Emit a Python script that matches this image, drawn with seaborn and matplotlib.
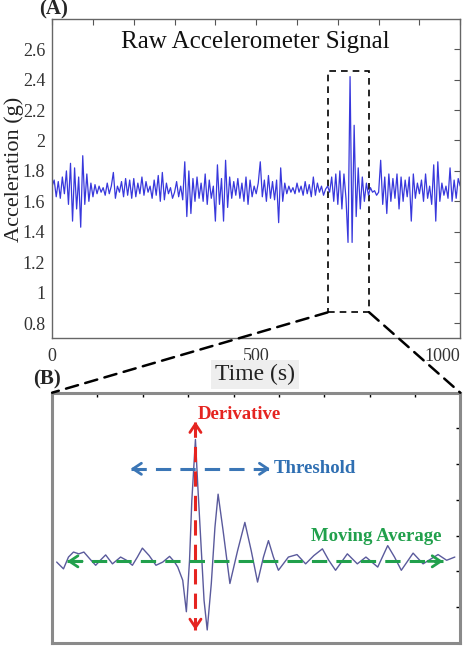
import numpy as np
import pandas as pd
import matplotlib
matplotlib.use("Agg")
import matplotlib.pyplot as plt
import seaborn as sns
from matplotlib.patches import Rectangle, ConnectionPatch

sns.set_style("white")
plt.rcParams['font.family'] = ['Liberation Serif', 'DejaVu Serif']

# (A) raw signal, one reading every 5 s
time_s = np.arange(0, 1001, 5)
accel_g = [
    1.70, 1.74, 1.63, 1.73, 1.62, 1.76, 1.65, 1.80, 1.58, 1.85,
    1.47, 1.82, 1.55, 1.76, 1.43, 1.90, 1.58, 1.78, 1.60, 1.72,
    1.63, 1.71, 1.65, 1.70, 1.66, 1.69, 1.64, 1.72, 1.65, 1.70,
    1.79, 1.62, 1.70, 1.66, 1.73, 1.63, 1.75, 1.64, 1.74, 1.62,
    1.75, 1.63, 1.72, 1.65, 1.76, 1.64, 1.73, 1.66, 1.70, 1.62,
    1.74, 1.64, 1.77, 1.60, 1.79, 1.61, 1.72, 1.65, 1.69, 1.62,
    1.66, 1.73, 1.63, 1.70, 1.61, 1.86, 1.50, 1.80, 1.52, 1.75,
    1.60, 1.76, 1.62, 1.72, 1.60, 1.78, 1.58, 1.74, 1.62, 1.70,
    1.47, 1.84, 1.58, 1.75, 1.47, 1.87, 1.56, 1.76, 1.62, 1.73,
    1.64, 1.75, 1.62, 1.72, 1.60, 1.76, 1.58, 1.74, 1.63, 1.70,
    1.65, 1.72, 1.86, 1.63, 1.74, 1.60, 1.77, 1.62, 1.73, 1.61,
    1.74, 1.46, 1.82, 1.60, 1.72, 1.65, 1.70, 1.66, 1.69, 1.65,
    1.72, 1.66, 1.70, 1.64, 1.73, 1.65, 1.71, 1.63, 1.76, 1.64,
    1.72, 1.66, 1.70, 1.64, 1.68, 1.70, 1.66, 1.76, 1.60, 1.78,
    1.58, 1.80, 1.55, 1.78, 1.62, 1.33, 2.42, 1.33, 2.10, 1.50,
    1.82, 1.55, 1.76, 1.60, 1.72, 1.64, 1.69, 1.66, 1.67, 1.64,
    1.66, 1.87, 1.58, 1.76, 1.52, 1.78, 1.60, 1.75, 1.62, 1.78,
    1.55, 1.76, 1.60, 1.74, 1.63, 1.76, 1.47, 1.78, 1.62, 1.72,
    1.65, 1.74, 1.60, 1.78, 1.62, 1.70, 1.58, 1.84, 1.47, 1.86,
    1.60, 1.72, 1.64, 1.70, 1.62, 1.82, 1.60, 1.74, 1.62, 1.75, 1.70,
]
box_t = [675, 777]
box_g = [0.87, 2.46]

# (B) zoomed, smoothed segment (arbitrary units)
zoom_x = [1.0, 2.5, 3.6, 4.7, 5.9, 7.0, 8.3, 9.6, 10.7, 11.8, 13.3, 15.1, 16.4,
          17.7, 18.8, 19.9, 21.4, 22.9, 24.4, 25.9, 27.0, 27.7, 28.8, 29.6, 30.3,
          30.8, 31.6, 32.1, 32.7, 33.5, 34.2, 35.1, 35.9, 36.6, 37.7, 39.2, 40.9,
          42.5, 43.9, 45.3, 46.6, 47.7, 48.8, 49.9, 52.1, 54.0, 55.9, 57.7, 59.6,
          61.0, 62.5, 65.1, 67.3, 69.2, 71.8, 74.0, 75.5, 77.0, 79.6, 81.8, 85.1,
          87.0, 88.8]
zoom_y = [2.26, 2.07, 2.40, 2.54, 2.49, 2.54, 2.35, 2.17, 2.32, 2.46, 2.21, 2.40, 2.31,
          2.17, 2.40, 2.65, 2.44, 2.17, 2.26, 2.42, 2.26, 2.12, 1.75, 0.87, 2.31,
          3.97, 5.69, 4.44, 3.05, 1.19, 0.36, 1.66, 3.23, 4.16, 3.14, 1.66, 2.58,
          3.37, 2.58, 1.70, 2.40, 2.86, 2.40, 2.03, 2.40, 2.47, 2.21, 2.44, 2.63,
          2.31, 2.03, 2.49, 2.21, 2.40, 2.12, 2.72, 2.40, 2.03, 2.51, 2.21, 2.47,
          2.31, 2.40]

df_a = pd.DataFrame({"t": time_s, "g": accel_g})
df_b = pd.DataFrame({"x": zoom_x, "y": zoom_y})

fig = plt.figure(figsize=(4.74, 6.48), dpi=100)
ax = fig.add_axes([0.110, 0.478, 0.861, 0.493])
axb = fig.add_axes([0.110, 0.008, 0.861, 0.386])

# ---- panel A
sns.lineplot(data=df_a, x="t", y="g", ax=ax, color="#3838dc", linewidth=0.9)
ax.set_xlim(0, 1000)
ax.set_ylim(0.7, 2.8)
ax.set_xticks(np.arange(0, 1001, 100))
ax.set_xticklabels(["0" if v == 0 else ("500" if v == 500 else ("1000" if v == 1000 else ""))
                    for v in range(0, 1001, 100)])
ax.get_xticklabels()[-1].set_horizontalalignment("right")
ax.set_yticks(np.arange(0.8, 2.61, 0.2))
ax.set_yticklabels(["0.8", "1", "1.2", "1.4", "1.6", "1.8", "2", "2.2", "2.4", "2.6"])
ax.tick_params(direction="in", length=4, width=0.8, top=True, right=True,
               labelsize=13, labelcolor="#333333", color="#555555", pad=5)
ax.tick_params(axis="x", pad=7)
for s in ax.spines.values():
    s.set_color("#666666")
    s.set_linewidth(1.0)
ax.set_ylabel("Acceleration (g)", fontsize=16, color="#222222")
ax.yaxis.label.set_verticalalignment("center")
ax.yaxis.set_label_coords(-0.093, 0.53)
ax.set_xlabel("Time (s)", fontsize=17, color="#222222",
              bbox=dict(facecolor="#eeeeee", edgecolor="none", pad=3))
ax.xaxis.set_label_coords(0.497, -0.08)
ax.text(0.497, 0.928, "Raw Accelerometer Signal", transform=ax.transAxes,
        ha="center", va="center", fontsize=18, color="#111111")

ax.add_patch(Rectangle((box_t[0], box_g[0]), box_t[1] - box_t[0], box_g[1] - box_g[0],
                       fill=False, edgecolor="black", linestyle=(0, (4, 3)), linewidth=1.2))

fig.text(0.112, 0.985, "(A)", ha="center", va="center", fontsize=15, fontweight="bold")
fig.text(0.100, 0.415, "(B)", ha="center", va="center", fontsize=15, fontweight="bold")

# connectors from box to panel B
for bx, ax_frac in [(box_t[0], 0.0), (box_t[1], 1.0)]:
    con = ConnectionPatch(xyA=(bx, box_g[0]), coordsA="data", axesA=ax,
                          xyB=(ax_frac, 1.0), coordsB="axes fraction", axesB=axb,
                          color="black", linestyle=(0, (5, 3)), linewidth=1.8)
    fig.add_artist(con)

# ---- panel B
sns.lineplot(data=df_b, x="x", y="y", ax=axb, color="#5a5a9c", linewidth=1.0)
axb.set_xlim(0, 90)
axb.set_ylim(0, 7)
axb.set_xticks(np.arange(0, 91, 10))
axb.set_yticks(np.arange(0, 8, 1))
axb.set_xticklabels([])
axb.set_yticklabels([])
axb.set_xlabel("")
axb.set_ylabel("")
axb.tick_params(direction="in", length=3, width=1.0, top=True, right=True, color="black")
for s in axb.spines.values():
    s.set_color("#8a8a8a")
    s.set_linewidth(2.2)


def dashed_double_arrow(a, p0, p1, color):
    a.plot([p0[0], p1[0]], [p0[1], p1[1]], color=color, linewidth=2.2,
           linestyle=(0, (5, 3)), solid_capstyle="butt")
    for tip, base in [(p0, p1), (p1, p0)]:
        frac = 0.04
        start = (tip[0] + (base[0] - tip[0]) * frac, tip[1] + (base[1] - tip[1]) * frac)
        a.annotate("", xy=tip, xytext=start,
                   arrowprops=dict(arrowstyle="->,head_length=0.6,head_width=0.4",
                                   color=color, linewidth=2.0, shrinkA=0, shrinkB=0))


red, blue, green = "#e52420", "#3b76b6", "#21a04c"
dashed_double_arrow(axb, (31.6, 6.19), (31.6, 0.36), red)
dashed_double_arrow(axb, (17.3, 4.87), (48.1, 4.87), blue)
dashed_double_arrow(axb, (3.3, 2.28), (86.2, 2.28), green)

axb.text(32.1, 6.40, "Derivative", color=red, fontsize=13.5, fontweight="bold",
         ha="left", va="center")
axb.text(48.8, 4.87, "Threshold", color="#2f6fb2", fontsize=13.5, fontweight="bold",
         ha="left", va="center")
axb.text(57.0, 2.97, "Moving Average", color=green, fontsize=13.5, fontweight="bold",
         ha="left", va="center")

fig.savefig("out.png", dpi=100)
